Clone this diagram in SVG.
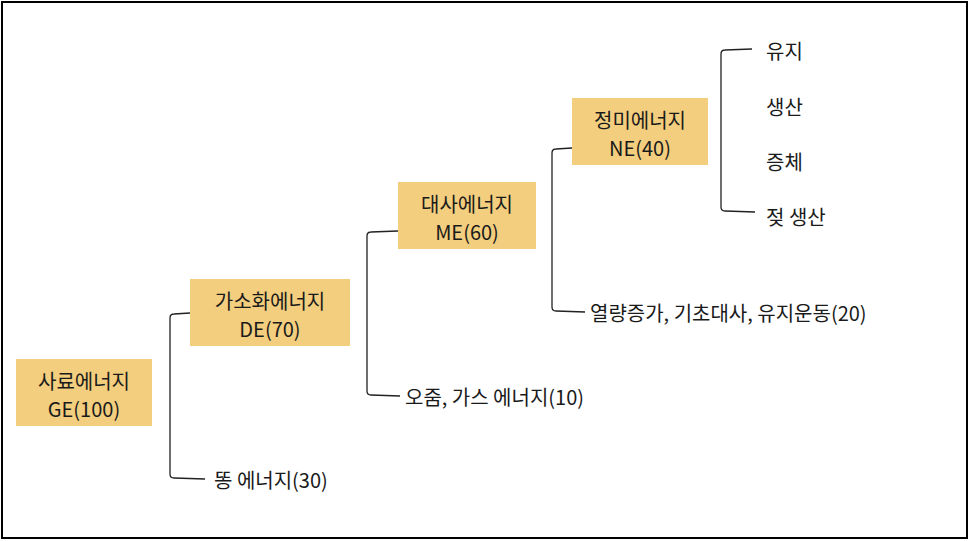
<svg xmlns="http://www.w3.org/2000/svg" width="971" height="541" viewBox="0 0 971 541">
<style>
.box{fill:#f2ce7e}
text{font-family:"Noto Sans CJK KR","Noto Sans",sans-serif;font-size:20px;fill:#1a1a1a;dominant-baseline:central}
.c{text-anchor:middle}
.ln{fill:none;stroke:#222;stroke-width:1.3}
</style>
<rect x="2" y="2" width="965" height="536" fill="#fff" stroke="#000" stroke-width="2"/>
<g id="connectors">
<path class="ln" d="M190,313 L174,314 Q170,314 170,318 L170,474 Q170,478 174,478 L205,479"/>
<path class="ln" d="M398,231 L371,232 Q367,232 367,236 L367,391 Q367,395 371,395 L400,396"/>
<path class="ln" d="M572,148 L556,149 Q552,149 552,153 L552,307 Q552,311 556,311 L585,312"/>
<path class="ln" d="M752,49 L725,50 Q721,50 721,54 L721,207 Q721,211 725,211 L755,212"/>
</g>
<g id="ge"><rect class="box" x="16" y="359" width="136" height="67"/><text class="c" x="84" y="380">사료에너지</text><text class="c" x="84" y="408">GE(100)</text></g>
<g id="de"><rect class="box" x="190" y="279" width="160" height="67"/><text class="c" x="270" y="300">가소화에너지</text><text class="c" x="270" y="328">DE(70)</text></g>
<g id="me"><rect class="box" x="398" y="182" width="138" height="67"/><text class="c" x="467" y="203">대사에너지</text><text class="c" x="467" y="231">ME(60)</text></g>
<g id="ne"><rect class="box" x="572" y="98" width="136" height="67"/><text class="c" x="640" y="119">정미에너지</text><text class="c" x="640" y="147">NE(40)</text></g>
<g id="labels">
<text x="214" y="479">똥 에너지(30)</text>
<text x="405" y="396">오줌, 가스 에너지(10)</text>
<text x="590" y="312">열량증가, 기초대사, 유지운동(20)</text>
<text x="766" y="50">유지</text>
<text x="766" y="106">생산</text>
<text x="766" y="161">증체</text>
<text x="766" y="216">젖 생산</text>
</g>
</svg>
